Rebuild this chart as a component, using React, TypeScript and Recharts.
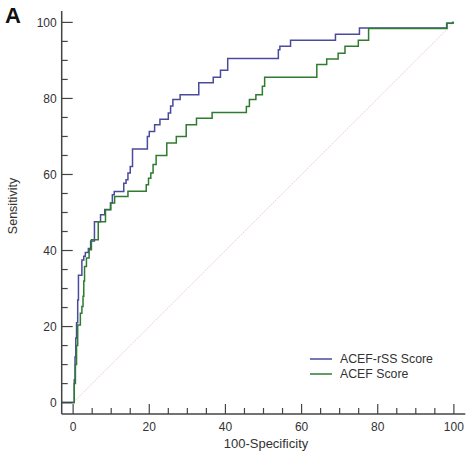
import React from 'react';
import { LineChart, Line, XAxis, YAxis, ReferenceLine } from 'recharts';

// ROC steps: at each x the curve rises to the matching y (drawn as stepAfter)
const rssX = [-3, 0, 0.3, 0.5, 0.7, 0.9, 1.2, 1.4, 2.3, 2.8, 3.2, 4.0, 4.6, 5.6, 7.2, 8.3, 9.8, 10.3, 10.8, 13.3, 13.9, 14.4, 15.0, 15.6, 19.5, 20.0, 21.4, 22.8, 25.0, 25.6, 26.2, 28.1, 33.0, 36.8, 38.7, 40.6, 53.9, 54.3, 57.1, 68.9, 75.2, 98.1, 99.7, 100];
const rssY = [0, 0, 6, 12, 17, 21, 27, 33.5, 37.5, 38.5, 39.5, 40.5, 42.5, 47.6, 49.4, 50.8, 52.5, 54.7, 55.5, 57.7, 58.6, 60.4, 62.1, 66.7, 70.0, 71.3, 73.1, 74.5, 76.2, 78.0, 79.7, 81.0, 84.1, 85.6, 87.4, 90.5, 92.8, 93.7, 95.3, 96.9, 98.5, 99.8, 100, 100];

const acefX = [-3, 0, 0.3, 0.6, 0.9, 1.2, 1.9, 2.3, 2.6, 2.8, 3.0, 3.5, 4.2, 4.8, 6.6, 8.5, 9.9, 10.9, 14.4, 19.2, 19.8, 20.4, 21.0, 21.8, 24.6, 27.1, 29.7, 32.4, 36.5, 45.5, 46.3, 48.0, 49.7, 50.3, 64.0, 66.6, 69.6, 71.4, 74.9, 77.6, 98.2, 99.7, 100];
const acefY = [0, 0, 5, 10, 15, 20.4, 23.5, 25.3, 28, 32, 35.8, 38, 40.2, 42.8, 47.6, 50.7, 52.5, 54.2, 55.6, 57.3, 59, 60.4, 62.6, 65.0, 68.3, 70.0, 73.1, 74.8, 76.3, 77.9, 79.7, 81.0, 83.2, 85.6, 88.9, 90.4, 91.9, 93.7, 95.3, 98.4, 99.8, 100, 100];

const axisTicks = [0, 5, 10, 15, 20, 25, 30, 35, 40, 45, 50, 55, 60, 65, 70, 75, 80, 85, 90, 95, 100];

const seriesNames = ['ACEF-rSS Score', 'ACEF Score'];
const seriesColors = ['#4a4a9e', '#2f7b30'];

const toPoints = (xs: number[], ys: number[]) => xs.map((x, i) => ({ x, y: ys[i] }));
const rssData = toPoints(rssX, rssY);
const acefData = toPoints(acefX, acefY);

const font = '"Liberation Sans", Arial, sans-serif';
const ink = '#444';

const XTick = ({ x, y, payload }: any) => {
  const major = payload.value % 20 === 0;
  return (
    <g>
      <line x1={x} y1={y} x2={x} y2={y - (major ? 10 : 6)} stroke={ink} strokeWidth={1.2} />
      {major && (
        <text x={x} y={y + 17} textAnchor="middle" fontSize={12} fill="#333" fontFamily={font}>
          {payload.value}
        </text>
      )}
    </g>
  );
};

const YTick = ({ x, y, payload }: any) => {
  const major = payload.value % 20 === 0;
  return (
    <g>
      <line x1={x} y1={y} x2={x + (major ? 11 : 6)} y2={y} stroke={ink} strokeWidth={1.2} />
      {major && (
        <text x={x - 5} y={y + 4.3} textAnchor="end" fontSize={12} fill="#333" fontFamily={font}>
          {payload.value}
        </text>
      )}
    </g>
  );
};

export default function App() {
  return (
    <div style={{ position: 'absolute', left: 0, top: 0, width: 475, height: 454, background: '#fff', fontFamily: font }}>
      <LineChart width={475} height={454} margin={{ top: 11, right: 9.7, left: 11.7, bottom: 0 }}>
        <XAxis
          dataKey="x"
          type="number"
          domain={[-3, 103]}
          ticks={axisTicks}
          interval={0}
          tickLine={false}
          tickSize={0}
          tickMargin={0}
          height={40}
          axisLine={{ stroke: ink, strokeWidth: 1.5 }}
          tick={<XTick />}
        />
        <YAxis
          type="number"
          domain={[-3, 103]}
          ticks={axisTicks}
          interval={0}
          tickLine={false}
          tickSize={0}
          tickMargin={0}
          width={50}
          axisLine={{ stroke: ink, strokeWidth: 1.5 }}
          tick={<YTick />}
        />
        <ReferenceLine
          segment={[{ x: 0, y: 0 }, { x: 100, y: 100 }]}
          stroke="#ecd3d3"
          strokeWidth={1}
          strokeDasharray="2 1"
        />
        <Line
          data={rssData}
          dataKey="y"
          name={seriesNames[0]}
          type="stepAfter"
          stroke={seriesColors[0]}
          strokeWidth={1.5}
          dot={false}
          isAnimationActive={false}
        />
        <Line
          data={acefData}
          dataKey="y"
          name={seriesNames[1]}
          type="stepAfter"
          stroke={seriesColors[1]}
          strokeWidth={1.5}
          dot={false}
          isAnimationActive={false}
        />
      </LineChart>
      <svg width={475} height={454} style={{ position: 'absolute', left: 0, top: 0, pointerEvents: 'none' }}>
        <text x={5} y={23} fontSize={22} fontWeight="bold" fill="#111" fontFamily={font}>A</text>
        <text x={17} y={206} transform="rotate(-90 17 206)" textAnchor="middle" fontSize={12.5} fill="#333" fontFamily={font}>
          Sensitivity
        </text>
        <text x={266} y={448} textAnchor="middle" fontSize={13} fill="#333" fontFamily={font}>100-Specificity</text>
        {seriesNames.map((name, i) => (
          <g key={name}>
            <line x1={310} x2={332} y1={359 + i * 15} y2={359 + i * 15} stroke={seriesColors[i]} strokeWidth={1.5} />
            <text x={340} y={363 + i * 15} fontSize={12.3} fill="#333" fontFamily={font}>{name}</text>
          </g>
        ))}
      </svg>
    </div>
  );
}
